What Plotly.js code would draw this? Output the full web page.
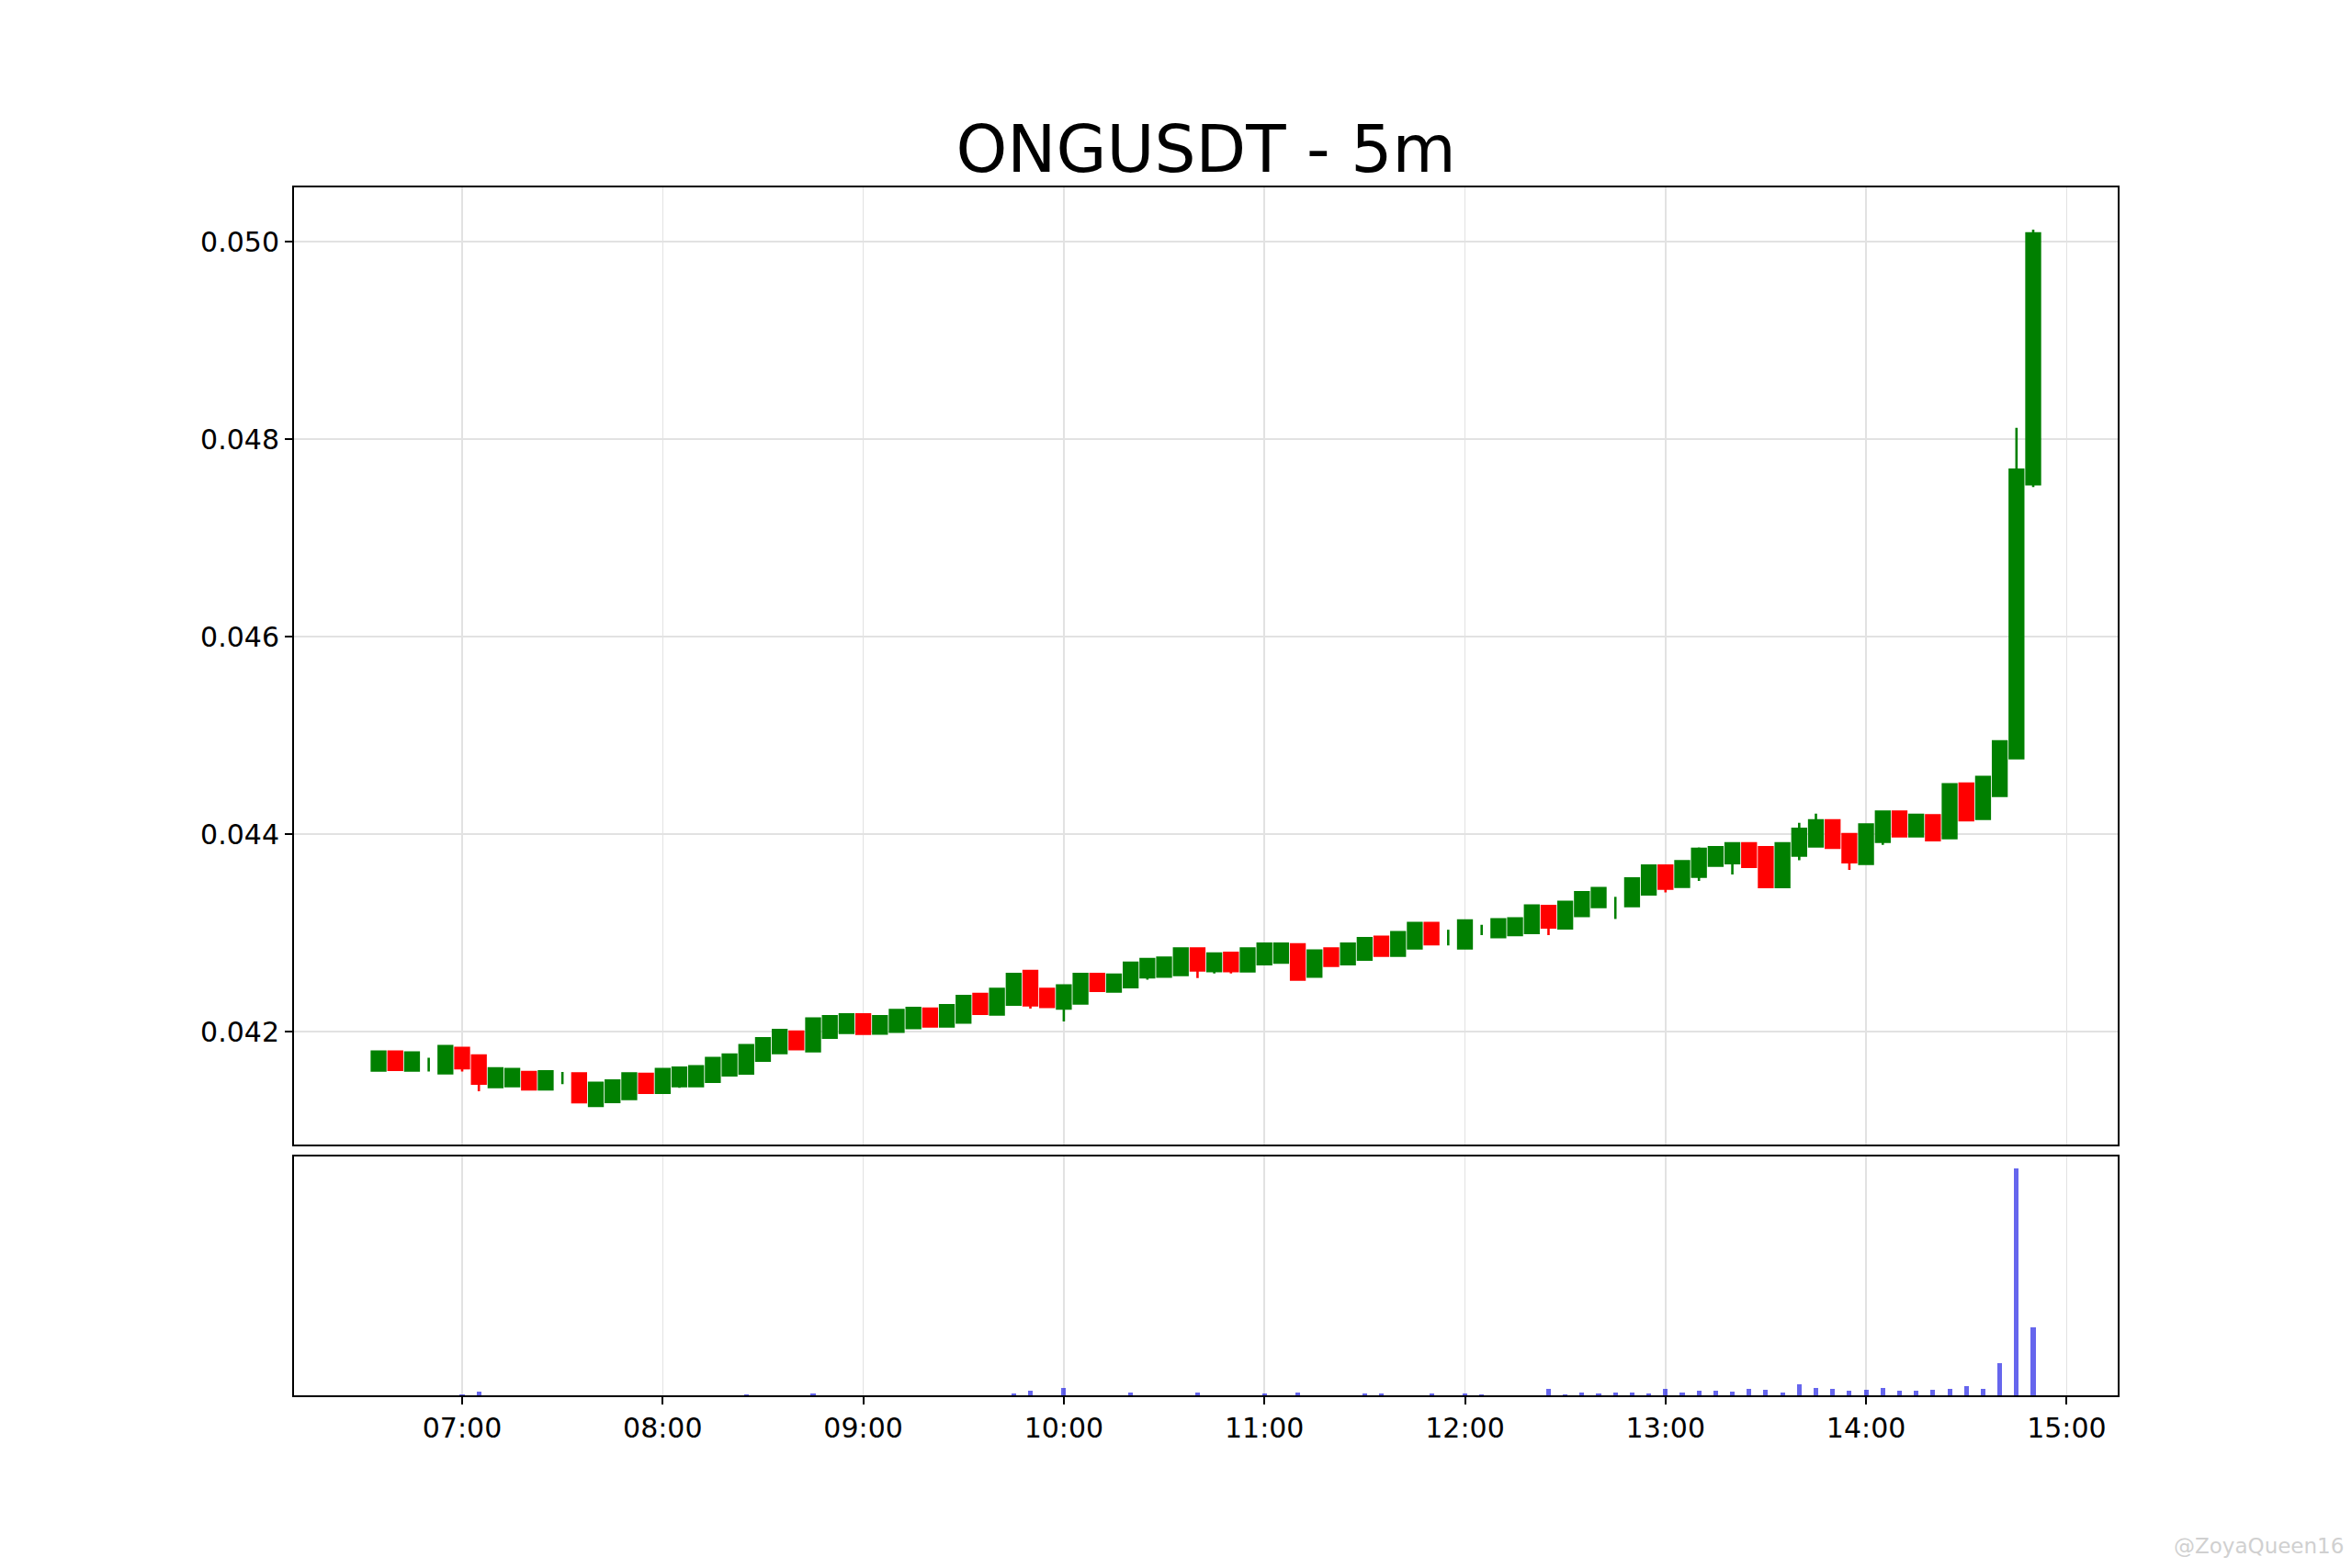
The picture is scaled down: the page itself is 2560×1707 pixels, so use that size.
<!DOCTYPE html>
<html>
<head>
<meta charset="utf-8">
<script src="https://cdn.plot.ly/plotly-3.0.1.min.js"></script>
<style>
html,body{margin:0;padding:0;background:#fff;}
#chart{width:2560px;height:1707px;}
</style>
</head>
<body>
<div id="chart"></div>
<script>
const chartTitle = 'ONGUSDT - 5m';
const day = '2024-01-01';

const times = [
'06:35','06:40','06:45','06:50','06:55','07:00','07:05','07:10','07:15','07:20',
'07:25','07:30','07:35','07:40','07:45','07:50','07:55','08:00','08:05','08:10',
'08:15','08:20','08:25','08:30','08:35','08:40','08:45','08:50','08:55','09:00',
'09:05','09:10','09:15','09:20','09:25','09:30','09:35','09:40','09:45','09:50',
'09:55','10:00','10:05','10:10','10:15','10:20','10:25','10:30','10:35','10:40',
'10:45','10:50','10:55','11:00','11:05','11:10','11:15','11:20','11:25','11:30',
'11:35','11:40','11:45','11:50','11:55','12:00','12:05','12:10','12:15','12:20',
'12:25','12:30','12:35','12:40','12:45','12:50','12:55','13:00','13:05','13:10',
'13:15','13:20','13:25','13:30','13:35','13:40','13:45','13:50','13:55','14:00',
'14:05','14:10','14:15','14:20','14:25','14:30','14:35','14:40','14:45','14:50'
];

const openPrices = [
0.041606,0.041798,0.041606,0.041680,0.041578,0.041836,0.041758,0.041439,0.041448,0.041591,
0.041414,0.041535,0.041578,0.041247,0.041287,0.041318,0.041572,0.041380,0.041448,0.041448,
0.041491,0.041557,0.041575,0.041706,0.041783,0.042000,0.041802,0.041938,0.041988,0.042174,
0.041981,0.042000,0.042037,0.042233,0.042053,0.042093,0.042381,0.042174,0.042273,0.042614,
0.042434,0.042233,0.042285,0.042583,0.042406,0.042450,0.042549,0.042558,0.042574,0.042843,
0.042614,0.042797,0.042611,0.042682,0.042698,0.042884,0.042558,0.042843,0.042682,0.042729,
0.042961,0.042769,0.042843,0.043101,0.042961,0.042843,0.043029,0.042958,0.042977,0.042999,
0.043272,0.043045,0.043172,0.043262,0.043256,0.043272,0.043389,0.043681,0.043467,0.043569,
0.043681,0.043706,0.043907,0.043867,0.043464,0.043783,0.043876,0.044140,0.044000,0.043699,
0.043922,0.044229,0.043978,0.044192,0.043960,0.044512,0.044155,0.044388,0.044769,0.047543
];

const highPrices = [
0.041798,0.041798,0.041789,0.041736,0.041854,0.041836,0.041758,0.041628,0.041622,0.041591,
0.041597,0.041591,0.041578,0.041482,0.041504,0.041578,0.041572,0.041622,0.041634,0.041650,
0.041733,0.041767,0.041864,0.041932,0.042016,0.042000,0.042133,0.042155,0.042174,0.042174,
0.042155,0.042220,0.042239,0.042233,0.042267,0.042360,0.042381,0.042434,0.042583,0.042614,
0.042434,0.042468,0.042583,0.042583,0.042578,0.042698,0.042735,0.042750,0.042843,0.042843,
0.042791,0.042797,0.042843,0.042890,0.042890,0.042884,0.042822,0.042843,0.042890,0.042946,
0.042961,0.043008,0.043101,0.043101,0.043032,0.043125,0.043082,0.043138,0.043148,0.043278,
0.043272,0.043315,0.043411,0.043454,0.043365,0.043551,0.043681,0.043681,0.043727,0.043867,
0.043876,0.043907,0.043916,0.043867,0.043907,0.044115,0.044208,0.044140,0.044000,0.044099,
0.044229,0.044229,0.044208,0.044192,0.044505,0.044512,0.044580,0.044939,0.048114,0.050122
];

const lowPrices = [
0.041606,0.041612,0.041606,0.041597,0.041578,0.041597,0.041395,0.041439,0.041448,0.041414,
0.041414,0.041467,0.041284,0.041247,0.041287,0.041318,0.041380,0.041380,0.041430,0.041448,
0.041491,0.041557,0.041575,0.041706,0.041783,0.041823,0.041802,0.041938,0.041988,0.041978,
0.041981,0.042000,0.042037,0.042053,0.042053,0.042093,0.042180,0.042174,0.042273,0.042233,
0.042251,0.042102,0.042285,0.042412,0.042406,0.042450,0.042527,0.042558,0.042574,0.042543,
0.042589,0.042589,0.042611,0.042682,0.042698,0.042527,0.042558,0.042667,0.042682,0.042729,
0.042769,0.042769,0.042843,0.042884,0.042874,0.042843,0.042977,0.042958,0.042977,0.042999,
0.042977,0.043045,0.043172,0.043262,0.043141,0.043272,0.043389,0.043411,0.043467,0.043526,
0.043681,0.043591,0.043668,0.043464,0.043464,0.043736,0.043876,0.043861,0.043637,0.043699,
0.043892,0.043978,0.043978,0.043938,0.043960,0.044140,0.044146,0.044379,0.044769,0.047514
];

const closePrices = [
0.041798,0.041612,0.041789,0.041680,0.041854,0.041628,0.041473,0.041628,0.041622,0.041414,
0.041597,0.041535,0.041284,0.041482,0.041504,0.041578,0.041380,0.041622,0.041634,0.041650,
0.041733,0.041767,0.041864,0.041932,0.042016,0.041823,0.042133,0.042155,0.042174,0.041978,
0.042155,0.042220,0.042239,0.042053,0.042267,0.042360,0.042180,0.042434,0.042583,0.042267,
0.042251,0.042468,0.042583,0.042412,0.042578,0.042698,0.042735,0.042750,0.042843,0.042620,
0.042791,0.042614,0.042843,0.042890,0.042890,0.042527,0.042822,0.042667,0.042890,0.042946,
0.042769,0.043008,0.043101,0.042884,0.042961,0.043125,0.043029,0.043138,0.043148,0.043278,
0.043055,0.043315,0.043411,0.043454,0.043256,0.043551,0.043681,0.043448,0.043727,0.043851,
0.043867,0.043907,0.043668,0.043464,0.043907,0.044053,0.044140,0.043861,0.043715,0.044099,
0.044229,0.043978,0.044195,0.043938,0.044505,0.044140,0.044580,0.044939,0.047691,0.050085
];

const volumes = [
0.3,0.3,0.3,0.2,0.4,0.8,4.4,0.3,0.3,0.2,
0.3,0.3,0.3,0.2,0.3,0.3,0.2,0.3,0.3,0.2,
0.3,0.3,1.3,0.3,0.3,0.3,2.4,0.3,0.2,0.3,
0.3,0.2,0.3,0.3,0.3,0.3,0.3,0.3,2.4,5.4,
0.3,8.1,0.3,0.3,0.3,3.1,0.3,0.3,0.3,3.4,
0.3,0.3,0.3,2.4,0.3,3.4,0.3,0.3,0.3,2.4,
2.4,0.3,0.3,2.4,0.3,2.4,0.5,0.3,0.3,0.3,
6.7,0.5,3.1,2.4,3.1,3.1,2.0,7.4,3.1,5.4,
5.0,4.0,7.4,6.0,2.7,12.1,8.1,7.4,5.0,6.0,
8.1,5.0,5.0,6.0,7.4,9.8,6.7,35,247,74
];

const priceTicks = [0.042, 0.044, 0.046, 0.048, 0.050];
const priceTickLabels = ['0.042', '0.044', '0.046', '0.048', '0.050'];
const hourTicks = ['07:00','08:00','09:00','10:00','11:00','12:00','13:00','14:00','15:00'];
const watermark = '@ZoyaQueen16';

const xs = times.map(t => day + ' ' + t + ':00');
const hourVals = hourTicks.map(t => day + ' ' + t + ':00');
const volMax = Math.max.apply(null, volumes);

// split: candles with a body vs. body-less (open == close) candles drawn as bare wicks
const bodyIdx = [], flatIdx = [];
openPrices.forEach((o, i) => (o === closePrices[i] ? flatIdx : bodyIdx).push(i));
const pick = (arr, idx) => idx.map(i => arr[i]);

const FONT = 'DejaVu Sans, Liberation Sans, sans-serif';

const candle = {
  type: 'candlestick',
  x: pick(xs, bodyIdx), open: pick(openPrices, bodyIdx), high: pick(highPrices, bodyIdx),
  low: pick(lowPrices, bodyIdx), close: pick(closePrices, bodyIdx),
  xaxis: 'x', yaxis: 'y',
  increasing: {line: {color: '#008000', width: 2.6}, fillcolor: '#008000'},
  decreasing: {line: {color: '#ff0000', width: 2.6}, fillcolor: '#ff0000'},
  whiskerwidth: 0,
  showlegend: false,
  hoverinfo: 'skip'
};

const flat = {
  type: 'ohlc',
  x: pick(xs, flatIdx), open: pick(openPrices, flatIdx), high: pick(highPrices, flatIdx),
  low: pick(lowPrices, flatIdx), close: pick(closePrices, flatIdx),
  xaxis: 'x', yaxis: 'y',
  tickwidth: 0,
  increasing: {line: {color: '#008000', width: 2.6}},
  decreasing: {line: {color: '#008000', width: 2.6}},
  showlegend: false,
  hoverinfo: 'skip'
};

const vol = {
  type: 'bar',
  x: xs, y: volumes,
  xaxis: 'x2', yaxis: 'y2',
  width: 84000,
  marker: {color: 'rgba(0,0,225,0.6)', line: {width: 0}},
  showlegend: false,
  hoverinfo: 'skip'
};

const axisCommon = {
  showline: true, mirror: true, linecolor: '#000', linewidth: 2,
  zeroline: false,
  gridcolor: '#e2e2e2', gridwidth: 1.6,
  tickfont: {family: FONT, size: 30, color: '#000'},
  tickcolor: '#000', tickwidth: 2, ticklen: 8
};

const xRange = [day + ' 06:09:42', day + ' 15:15:17'];

const layout = {
  width: 2560, height: 1707,
  paper_bgcolor: '#fff', plot_bgcolor: '#fff',
  margin: {l: 320, r: 255, t: 204, b: 188},
  boxgap: 0.19, boxgroupgap: 0,
  bargap: 0,
  title: {
    text: chartTitle,
    font: {family: FONT, size: 71, color: '#000'},
    x: 0.5, xref: 'paper', xanchor: 'center',
    y: 0.905, yref: 'container', yanchor: 'middle'
  },
  xaxis: Object.assign({}, axisCommon, {
    type: 'date', range: xRange, anchor: 'y',
    tickmode: 'array', tickvals: hourVals, ticktext: hourTicks,
    showgrid: true, showticklabels: false, ticks: '',
    rangeslider: {visible: false}
  }),
  yaxis: Object.assign({}, axisCommon, {
    domain: [0.2074, 1], anchor: 'x',
    range: [0.040854, 0.050550],
    tickmode: 'array', tickvals: priceTicks, ticktext: priceTickLabels,
    showgrid: true, ticks: 'outside'
  }),
  xaxis2: Object.assign({}, axisCommon, {
    type: 'date', range: xRange, anchor: 'y2', matches: 'x',
    tickmode: 'array', tickvals: hourVals, ticktext: hourTicks,
    showgrid: true, ticks: 'outside',
    rangeslider: {visible: false}
  }),
  yaxis2: Object.assign({}, axisCommon, {
    domain: [0, 0.1975], anchor: 'x2',
    range: [0, volMax * 1.05],
    showgrid: false, showticklabels: false, ticks: ''
  }),
  annotations: [{
    text: watermark, xref: 'paper', yref: 'paper',
    x: 1.125, y: -0.125, xanchor: 'right', yanchor: 'middle',
    showarrow: false,
    font: {family: FONT, size: 23, color: '#d0d0d0'}
  }]
};

Plotly.newPlot('chart', [candle, flat, vol], layout, {staticPlot: true, displayModeBar: false});
</script>
</body>
</html>
